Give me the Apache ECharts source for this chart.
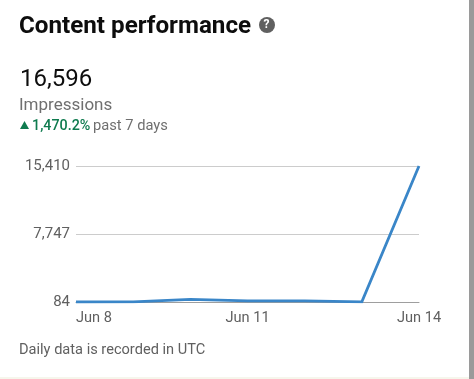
<!DOCTYPE html>
<html>
<head>
<meta charset="utf-8">
<style>
html, body { margin: 0; padding: 0; background: #fff; }
#main { width: 474px; height: 379px; }
</style>
</head>
<body>
<div id="main"></div>
<script src="https://cdn.jsdelivr.net/npm/echarts@6/dist/echarts.min.js"></script>
<script>
var categories = ['Jun 8', 'Jun 9', 'Jun 10', 'Jun 11', 'Jun 12', 'Jun 13', 'Jun 14'];
var impressions = [84, 90, 370, 220, 200, 100, 15410];
var yMin = 84, yMax = 15410, yStep = 7663;

var font = 'Roboto';
var myChart = echarts.init(document.getElementById('main'));
var option = {
    animation: false,
    backgroundColor: '#ffffff',
    grid: { left: 76, right: 55, top: 166, height: 136 },
    xAxis: {
        type: 'category',
        boundaryGap: false,
        data: categories,
        axisLine: { lineStyle: { color: '#9e9e9e', width: 1 } },
        axisTick: { show: false },
        axisLabel: {
            interval: 2,
            alignMinLabel: 'left',
            margin: 9,
            color: '#606060',
            fontFamily: font,
            fontSize: 14.6
        }
    },
    yAxis: {
        type: 'value',
        min: yMin,
        max: yMax,
        interval: yStep,
        axisLine: { show: false },
        axisTick: { show: false },
        axisLabel: {
            margin: 6,
            padding: [2, 0, 0, 0],
            color: '#606060',
            fontFamily: font,
            fontSize: 15,
            formatter: function (v) { return v.toLocaleString('en-US'); }
        },
        splitLine: { lineStyle: { color: '#cccccc', width: 1 } }
    },
    series: [
        {
            type: 'line',
            data: impressions,
            symbol: 'none',
            lineStyle: { color: '#3a86c8', width: 2.8, join: 'miter' }
        }
    ],
    graphic: [
        { type: 'text', left: 19, top: 15, style: { text: 'Content performance', fill: '#0d0d0d', font: 'bold 24.2px Roboto' } },
        { type: 'circle', shape: { cx: 267, cy: 25, r: 8 }, style: { fill: '#606060' } },
        { type: 'text', left: 263.5, top: 18.5, style: { text: '?', fill: '#ffffff', font: 'bold 12px Roboto' } },
        { type: 'text', left: 20, top: 68, style: { text: '16,596', fill: '#0d0d0d', font: '24px Roboto' } },
        { type: 'text', left: 19, top: 97, style: { text: 'Impressions', fill: '#6f6f6f', font: '17px Roboto' } },
        { type: 'polygon', shape: { points: [[20, 129], [29, 129], [24.5, 121]] }, style: { fill: '#0f7b4f' } },
        { type: 'text', left: 32, top: 119, style: { text: '1,470.2%', fill: '#0f7b4f', font: '500 14.3px Roboto' } },
        { type: 'text', left: 93, top: 119, style: { text: 'past 7 days', fill: '#6f6f6f', font: '14.7px Roboto' } },
        { type: 'text', left: 19, top: 343, style: { text: 'Daily data is recorded in UTC', fill: '#606060', font: '14.6px Roboto' } },
        { type: 'rect', shape: { x: 469, y: 0, width: 5, height: 379 }, style: { fill: '#9a9a9a' } },
        { type: 'rect', shape: { x: 0, y: 377, width: 469, height: 2 }, style: { fill: '#f6f6ec' } }
    ]
};
myChart.setOption(option);
</script>
</body>
</html>
